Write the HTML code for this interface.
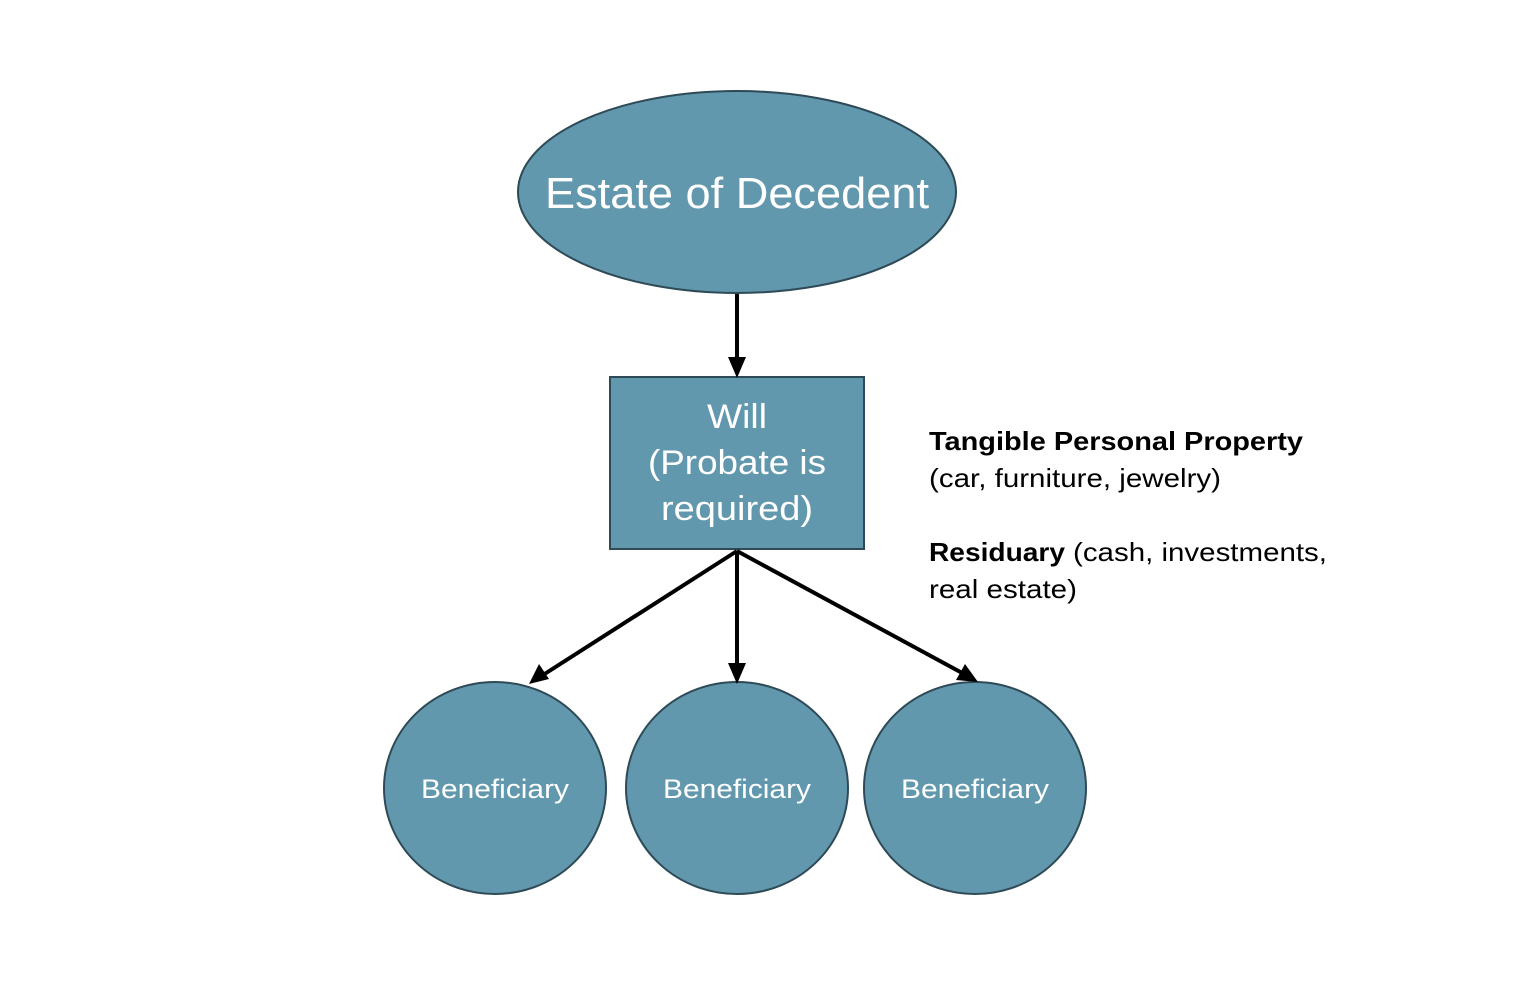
<!DOCTYPE html>
<html><head><meta charset="utf-8"><style>html,body{margin:0;padding:0;background:#fff}svg{display:block}</style></head>
<body>
<svg width="1540" height="996" viewBox="0 0 1540 996" xmlns="http://www.w3.org/2000/svg" font-family="Liberation Sans, sans-serif">
<defs>
<marker id="a" markerWidth="10" markerHeight="10" refX="9" refY="5" orient="auto" markerUnits="userSpaceOnUse" viewBox="0 0 10 10">
</marker>
</defs>
<g fill="#6298ad" stroke="#2e4a57" stroke-width="2">
<ellipse cx="737" cy="192" rx="219" ry="101"/>
<rect x="610" y="377" width="254" height="172"/>
<ellipse cx="495" cy="788" rx="111" ry="106"/>
<ellipse cx="737" cy="788" rx="111" ry="106"/>
<ellipse cx="975" cy="788" rx="111" ry="106"/>
</g>
<g stroke="#000" stroke-width="4" fill="none">
<line x1="737" y1="294" x2="737" y2="362"/>
<line x1="737" y1="551" x2="737" y2="668"/>
<line x1="737" y1="551" x2="543" y2="675"/>
<line x1="737" y1="551" x2="964" y2="674"/>
</g>
<g fill="#000">
<polygon points="737,378 728,357 746,357"/>
<polygon points="737,684 728,663 746,663"/>
<polygon points="529,684 539,664 549,679"/>
<polygon points="978,682 956,680 965,664"/>
</g>
<g fill="#fff" text-anchor="middle">
<text x="737" y="208" font-size="44" textLength="384" lengthAdjust="spacingAndGlyphs">Estate of Decedent</text>
<text x="737" y="428" font-size="34" textLength="60" lengthAdjust="spacingAndGlyphs">Will</text>
<text x="737" y="474" font-size="34" textLength="178" lengthAdjust="spacingAndGlyphs">(Probate is</text>
<text x="737" y="520" font-size="34" textLength="152" lengthAdjust="spacingAndGlyphs">required)</text>
<text x="495" y="798" font-size="27" textLength="148" lengthAdjust="spacingAndGlyphs">Beneficiary</text>
<text x="737" y="798" font-size="27" textLength="148" lengthAdjust="spacingAndGlyphs">Beneficiary</text>
<text x="975" y="798" font-size="27" textLength="148" lengthAdjust="spacingAndGlyphs">Beneficiary</text>
</g>
<g fill="#000" font-size="26">
<text x="929" y="450" font-weight="bold" textLength="374" lengthAdjust="spacingAndGlyphs">Tangible Personal Property</text>
<text x="929" y="487" textLength="292" lengthAdjust="spacingAndGlyphs">(car, furniture, jewelry)</text>
<text x="929" y="561"><tspan font-weight="bold" textLength="136" lengthAdjust="spacingAndGlyphs">Residuary</tspan></text>
<text x="1073" y="561" textLength="254" lengthAdjust="spacingAndGlyphs">(cash, investments,</text>
<text x="929" y="598" textLength="148" lengthAdjust="spacingAndGlyphs">real estate)</text>
</g>
</svg>
</body></html>
